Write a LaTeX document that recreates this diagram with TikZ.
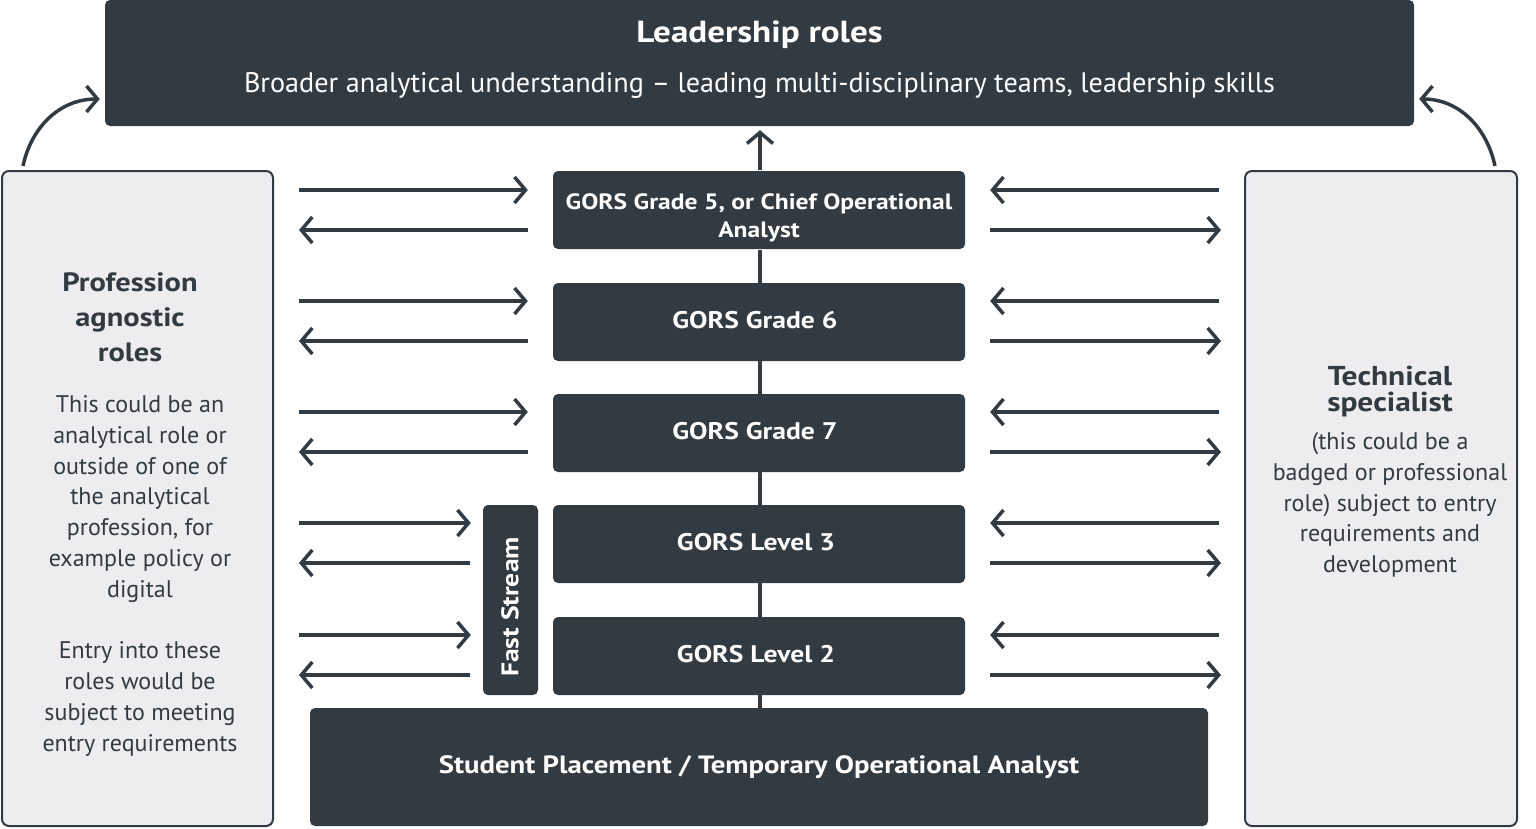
\documentclass[tikz,border=0pt]{standalone}
\usepackage{fontspec}
\setmainfont{PT Sans}[BoldFeatures={FakeStretch=1.15}]
\usetikzlibrary{arrows.meta}
\definecolor{dk}{HTML}{323B42}
\definecolor{lt}{HTML}{EDEDF0}
\tikzset{
  darkbox/.style={fill=dk, rounded corners=5pt, text=white, font=\bfseries\fontsize{24}{28}\selectfont, align=center, inner sep=0pt},
  gbox/.style={darkbox, minimum width=412pt, minimum height=78pt},
  panel/.style={fill=lt, draw=dk, line width=2pt, rounded corners=7pt},
  conn/.style={draw=dk, line width=3.5pt, -{Straight Barb[length=11pt,width=26pt,line width=3.5pt]}},
  ptxt/.style={text=dk, align=center, inner sep=0pt},
  wtxt/.style={text=white, align=center, inner sep=0pt},
}
\begin{document}
\begin{tikzpicture}[x=1pt,y=-1pt]
\path[use as bounding box] (0,0) rectangle (1536,828);
% top
\node[darkbox, minimum width=1309pt, minimum height=126pt] (top) at (759.5,63) {};
\node[wtxt, font=\bfseries\fontsize{30.5}{36}\selectfont] (toptitle) at (759.5,35) {Leadership roles};
\node[wtxt, font=\fontsize{28.2}{32}\selectfont] (topsub) at (759.5,86) {Broader analytical understanding – leading multi-disciplinary teams, leadership skills};
% panels
\node[panel, minimum width=271pt, minimum height=655pt] (lp) at (137.5,498.5) {};
\node[panel, minimum width=272pt, minimum height=655pt] (rp) at (1381,498.5) {};
\node[ptxt, font=\bfseries\fontsize{26.5}{35}\selectfont] (lph) at (130,317) {Profession\\agnostic\\roles};
\node[ptxt, font=\fontsize{24}{30.8}\selectfont] (lpb1) at (140,499) {This could be an\\analytical role or\\outside of one of\\the analytical\\profession, for\\example policy or\\digital};
\node[ptxt, font=\fontsize{24}{31}\selectfont] (lpb2) at (140,699) {Entry into these\\roles would be\\subject to meeting\\entry requirements};
\node[ptxt, font=\bfseries\fontsize{27.3}{26}\selectfont] (rph) at (1390,392) {Technical\\specialist};
\node[ptxt, font=\fontsize{24}{30.8}\selectfont] (rpb) at (1390,505) {(this could be a\\badged or professional\\role) subject to entry\\requirements and\\development};
% central boxes
\node[darkbox, minimum width=898pt, minimum height=118pt, font=\bfseries\fontsize{25}{30}\selectfont] (stud) at (759,767) {Student Placement / Temporary Operational Analyst};
\draw[dk, line width=3.5pt] (760,250) -- (stud.north -| 760,0);
\node[gbox] (g5) at (759,210) {};
\node[wtxt, font=\bfseries\fontsize{22.2}{28}\selectfont] (g5t) at (759,218) {GORS Grade 5, or Chief Operational\\Analyst};
\node[gbox] (g6) at (759,322) {};
\node[wtxt, font=\bfseries\fontsize{24}{28}\selectfont] (g6t) at (755,320) {GORS Grade 6};
\node[gbox] (g7) at (759,433) {};
\node[wtxt, font=\bfseries\fontsize{24}{28}\selectfont] (g7t) at (755,431) {GORS Grade 7};
\node[gbox] (l3) at (759,544) {};
\node[wtxt, font=\bfseries\fontsize{24}{28}\selectfont] (l3t) at (756,542) {GORS Level 3};
\node[gbox] (l2) at (759,656) {};
\node[wtxt, font=\bfseries\fontsize{24}{28}\selectfont] (l2t) at (756,654) {GORS Level 2};
\node[darkbox, minimum width=55pt, minimum height=190pt] (fs) at (510.5,600) {};
\node[wtxt, font=\bfseries\fontsize{24}{28}\selectfont, rotate=90] (fst) at (510,607) {Fast Stream};
% up arrow
\draw[conn, shorten <=1pt, shorten >=4pt] (g5.north -| 760,0) -- (top.south -| 760,0);
% curved arrows
\coordinate (lc) at (23,166);
\coordinate (rc) at (1495,166);
\draw[conn] (lc) to[out=78,in=180] ([xshift=-5pt,yshift=-36pt]top.west);
\draw[conn] (rc) to[out=102,in=0] ([xshift=5pt,yshift=-36pt]top.east);
% side arrows
\foreach \b/\y/\t in {g5/190/g5, g6/301/g6, g7/412/g7}{
  \coordinate (la\b) at (299,\y);
  \coordinate (lb\b) at (299,\y+40);
  \draw[conn] (la\b) -- ([xshift=-25pt]\t.west |- la\b);
  \draw[conn] ([xshift=-25pt]\t.west |- lb\b) -- (lb\b);
  \coordinate (ra\b) at (1219,\y);
  \coordinate (rb\b) at (1221,\y+40);
  \draw[conn] (ra\b) -- ([xshift=25pt]\t.east |- ra\b);
  \draw[conn] ([xshift=25pt]\t.east |- rb\b) -- (rb\b);
}
\foreach \b/\y in {l3/523, l2/635}{
  \coordinate (la\b) at (299,\y);
  \coordinate (lb\b) at (299,\y+40);
  \draw[conn] (la\b) -- ([xshift=-12pt]fs.west |- la\b);
  \draw[conn] ([xshift=-13pt]fs.west |- lb\b) -- (lb\b);
  \coordinate (ra\b) at (1219,\y);
  \coordinate (rb\b) at (1221,\y+40);
  \draw[conn] (ra\b) -- ([xshift=25pt]\b.east |- ra\b);
  \draw[conn] ([xshift=25pt]\b.east |- rb\b) -- (rb\b);
}
\end{tikzpicture}
\end{document}
